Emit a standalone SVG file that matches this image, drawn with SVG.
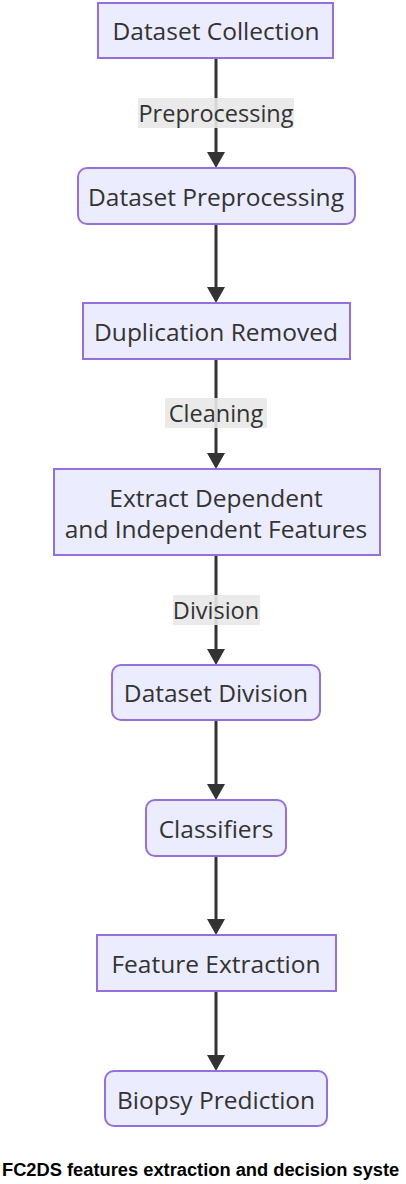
<svg xmlns="http://www.w3.org/2000/svg" width="406" height="1184" viewBox="0 0 406 1184">
<style>
.node rect{fill:#ECECFF;stroke:#9370DB;stroke-width:2}
.node text{font-family:"Open Sans","DejaVu Sans",sans-serif;font-size:24.5px;fill:#333;text-anchor:middle;dominant-baseline:central}
.edge line{stroke:#333;stroke-width:3}
.elabel rect{fill:#e8e8e8;opacity:0.9}
.elabel text{font-family:"Open Sans","DejaVu Sans",sans-serif;font-size:23.5px;fill:#333;text-anchor:middle;dominant-baseline:central}
.caption{font-family:"Liberation Sans",Arial,sans-serif;font-weight:bold;font-size:18.3px;fill:#000}
</style>
<rect width="406" height="1184" fill="#fff"/>
<g id="connectors">
<g class="edge"><line x1="216" y1="58" x2="216" y2="156"/></g>
<g class="edge"><line x1="216" y1="224" x2="216" y2="291"/></g>
<g class="edge"><line x1="216" y1="359" x2="216" y2="457"/></g>
<g class="edge"><line x1="216" y1="555" x2="216" y2="653"/></g>
<g class="edge"><line x1="216" y1="720" x2="216" y2="788"/></g>
<g class="edge"><line x1="216" y1="856" x2="216" y2="923"/></g>
<g class="edge"><line x1="216" y1="991" x2="216" y2="1059"/></g>
<g id="arrowheads" fill="#333">
<path d="M207,152 L225,152 L216,168 z"/>
<path d="M207,287 L225,287 L216,303 z"/>
<path d="M207,453 L225,453 L216,469 z"/>
<path d="M207,649 L225,649 L216,665 z"/>
<path d="M207,784 L225,784 L216,800 z"/>
<path d="M207,919 L225,919 L216,935 z"/>
<path d="M207,1055 L225,1055 L216,1071 z"/>
</g>
<g class="elabel" id="label-preprocessing"><rect x="138" y="98" width="156" height="30"/><text x="216" y="113">Preprocessing</text></g>
<g class="elabel" id="label-cleaning"><rect x="165" y="398" width="102" height="30"/><text x="216" y="413">Cleaning</text></g>
<g class="elabel" id="label-division"><rect x="173" y="595" width="87" height="30"/><text x="216" y="610">Division</text></g>
</g>
<g id="n1" class="node"><rect x="98" y="3" width="235" height="55"/><text x="216" y="30">Dataset Collection</text></g>
<g id="n2" class="node"><rect x="78" y="168" width="277" height="56" rx="9"/><text x="216" y="196">Dataset Preprocessing</text></g>
<g id="n3" class="node"><rect x="83" y="303" width="267" height="56"/><text x="216" y="331">Duplication Removed</text></g>
<g id="n4" class="node"><rect x="54" y="469" width="326" height="86"/><text x="216" y="497">Extract Dependent</text><text x="216" y="528">and Independent Features</text></g>
<g id="n5" class="node"><rect x="112" y="665" width="208" height="55" rx="9"/><text x="216" y="692">Dataset Division</text></g>
<g id="n6" class="node"><rect x="146" y="800" width="140" height="56" rx="9"/><text x="216" y="828">Classifiers</text></g>
<g id="n7" class="node"><rect x="97" y="935" width="239" height="56"/><text x="216" y="963">Feature Extraction</text></g>
<g id="n8" class="node"><rect x="105" y="1071" width="222" height="55" rx="9"/><text x="216" y="1099">Biopsy Prediction</text></g>
<text class="caption" x="2" y="1176">FC2DS features extraction and decision syste</text>
</svg>
